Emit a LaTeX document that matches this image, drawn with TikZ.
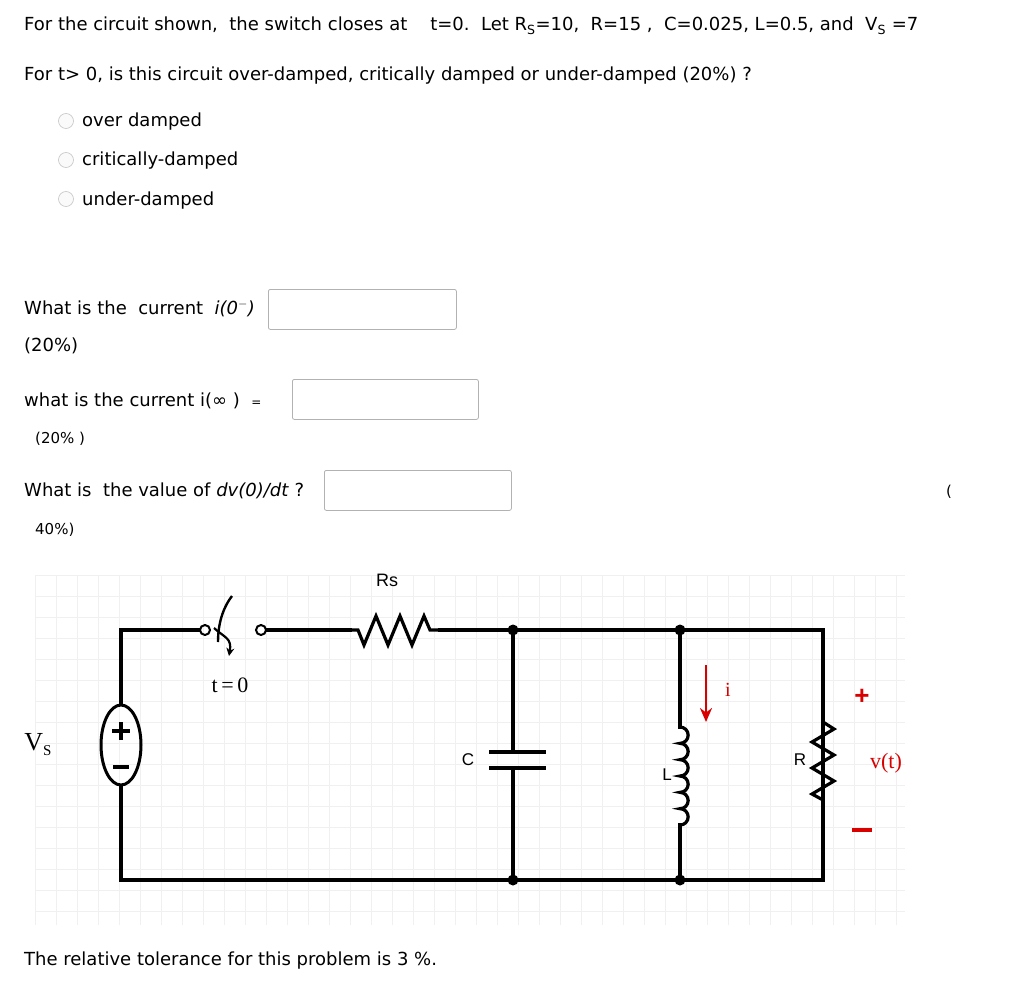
\documentclass[tikz,border=0pt]{standalone}
\usetikzlibrary{shapes.geometric,arrows.meta}
\usepackage{fontspec}
\setmainfont{DejaVu Sans}
\newfontfamily\serifcirc{Liberation Serif}
\newfontfamily\arialf{Liberation Sans}
\begin{document}
\begin{tikzpicture}[x=1pt,y=-1pt,
  txt/.style={anchor=base west,inner sep=0pt,font=\fontsize{18}{20}\selectfont},
  ansbox/.style={draw=gray!60,rounded corners=2pt,line width=0.8pt,minimum height=40pt,inner sep=0pt,anchor=north west},
  radio/.style={circle,draw=gray!45,line width=0.6pt,fill=gray!4,minimum size=15pt,inner sep=0pt},
  wire/.style={line width=3.4pt,line cap=rect},
  dot/.style={circle,fill=black,minimum size=11pt,inner sep=0pt},
  lab/.style={font=\arialf\fontsize{18}{18}\selectfont,inner sep=0pt},
  redl/.style={text=red!85!black,inner sep=0pt}]
\useasboundingbox (0,0) rectangle (1024,1003);
\fill[white] (0,0) rectangle (1024,1003);
% text
\node[txt] (t1) at (24,31) {For the circuit shown,\ \ the switch closes at\ \ \ \ t=0.\ \ Let R$_{\mathrm{S}}$=10,\ \ R=15 ,\ \ C=0.025, L=0.5, and\ \ V$_{\mathrm{S}}$ =7};
\node[txt] (t2) at (24,81) {For t> 0, is this circuit over-damped, critically damped or under-damped (20\%) ?};
\node[radio] (r1) at (66,121) {};
\node[radio] (r2) at (66,160) {};
\node[radio] (r3) at (66,199) {};
\node[txt] (o1) at (82,127) {over damped};
\node[txt] (o2) at (82,166) {critically-damped};
\node[txt] (o3) at (82,205) {under-damped};
\node[txt] (q1) at (24,314) {What is the\ \ current\ \ \textit{i(0}$^{-}$\textit{)}};
\node[ansbox,minimum width=188pt] (b1) at (268,289) {};
\node[txt] (q1b) at (24,351) {(20\%)};
\node[txt] (q2) at (24,406) {what is the current i(∞ )\ \ {\fontsize{12}{12}\selectfont =}};
\node[ansbox,minimum width=186pt] (b2) at (292,379) {};
\node[txt,font=\fontsize{15}{16}\selectfont] (q2b) at (35,443) {(20\% )};
\node[txt] (q3) at (24,496) {What is\ \ the value of \textit{dv(0)/dt} ?};
\node[ansbox,minimum width=187pt] (b3) at (324,470) {};
\node[txt,font=\fontsize{15}{16}\selectfont] (par) at (946,496) {(};
\node[txt,font=\fontsize{15}{16}\selectfont] (q3b) at (35,534) {40\%)};
\node[txt] (tol) at (24,965) {The relative tolerance for this problem is 3 \%.};
% faint grid
\foreach \gx in {35,56,...,905} \draw[gray!12,line width=0.6pt] (\gx,575) -- (\gx,925);
\foreach \gy in {575,596,...,925} \draw[gray!12,line width=0.6pt] (35,\gy) -- (905,\gy);
% circuit coordinates
\coordinate (tl) at (121,630); \coordinate (bl) at (121,880);
\coordinate (tr) at (823,630); \coordinate (br) at (823,880);
\node[draw,ellipse,line width=3pt,minimum width=40pt,minimum height=80pt,inner sep=0pt] (vs) at (121,745) {};
\draw[wire] (tl) -- (vs.north);
\draw[wire] (vs.south) -- (bl);
\draw[line width=3.6pt] (121,722) -- (121,740) (112,731) -- (130,731);
\draw[line width=3.6pt] (113,767) -- (129,767);
\node[font=\serifcirc\fontsize{26}{26}\selectfont,inner sep=0pt] (vsl) at (38,745) {V\raisebox{-5pt}{\fontsize{15}{15}\selectfont S}};
% switch
\node[circle,draw,line width=2pt,minimum size=10pt,inner sep=0pt] (s1) at (205,630) {};
\node[circle,draw,line width=2pt,minimum size=10pt,inner sep=0pt] (s2) at (261,630) {};
\draw[wire] (tl) -- (s1.west);
\draw[line width=2.4pt] (218,642) .. controls (218,620) and (225,605) .. (232,596);
\draw[line width=2.2pt,-{Stealth[length=8pt,width=8pt]}] (214,628) .. controls (225,638) and (232,638) .. (229,656);
\node[font=\serifcirc\fontsize{22}{22}\selectfont,inner sep=0pt] (t0) at (230,685) {t\,=\,0};
% Rs
\coordinate (rsa) at (350,630); \coordinate (rsb) at (440,630);
\draw[wire] (s2.east) -- (rsa);
\draw[line width=3.2pt,line join=miter] (rsa) -- (358,630) -- (364,645) -- (376,616) -- (388,645) -- (400,616) -- (412,645) -- (424,616) -- (430,630) -- (rsb);
\node[lab] (rsl) at (387,580) {Rs};
\coordinate (n1) at (513,630); \coordinate (n2) at (680,630);
\coordinate (n3) at (513,880); \coordinate (n4) at (680,880);
\draw[wire] (rsb) -- (n1) -- (n2) -- (tr) -- (br) -- (n4) -- (n3) -- (bl);
% capacitor
\draw[wire] (n1) -- (513,752);
\draw[wire] (n3) -- (513,768);
\draw[line width=3.6pt] (489,752) -- (546,752) (489,768) -- (546,768);
\node[lab,font=\arialf\fontsize{17}{17}\selectfont] (cl) at (468,760) {C};
% inductor
\draw[wire] (n2) -- (680,727);
\draw[wire] (n4) -- (680,825);
\draw[line width=3.2pt] (680,727) arc[start angle=-90,end angle=90,radius=8.17]
  arc[start angle=-90,end angle=90,radius=8.17] arc[start angle=-90,end angle=90,radius=8.17]
  arc[start angle=-90,end angle=90,radius=8.17] arc[start angle=-90,end angle=90,radius=8.17]
  arc[start angle=-90,end angle=90,radius=8.17];
\node[lab,font=\arialf\fontsize{17}{17}\selectfont] (ll) at (667,775) {L};
\draw[red!85!black,line width=2.6pt,-{Stealth[length=14pt,width=12pt]}] (706,665) -- (706,722);
\node[redl,font=\serifcirc\fontsize{20}{20}\selectfont] (il) at (728,690) {i};
% R
\draw[line width=3.2pt,line join=miter] (823,722) -- (834,729) -- (812,742) -- (834,755) -- (812,768) -- (834,781) -- (812,794) -- (823,800);
\node[lab,font=\arialf\fontsize{17}{17}\selectfont] (rl) at (800,760) {R};
\node[redl,font=\arialf\bfseries\fontsize{26}{26}\selectfont] (pl) at (862,697) {+};
\node[redl,font=\serifcirc\fontsize{22}{22}\selectfont] (vt) at (886,763) {v(t)};
\draw[red!85!black,line width=3.6pt] (852,830) -- (872,830);
\node[dot] at (n1) {}; \node[dot] at (n2) {};
\node[dot] at (n3) {}; \node[dot] at (n4) {};
\end{tikzpicture}
\end{document}
